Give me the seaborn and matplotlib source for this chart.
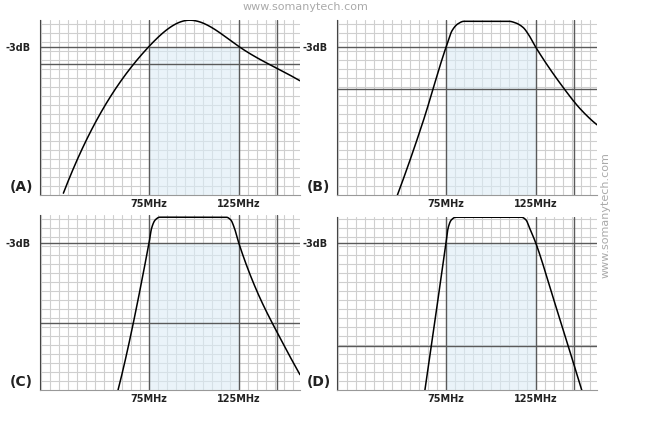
import matplotlib
matplotlib.use("Agg")
import matplotlib.pyplot as plt
import seaborn as sns
import numpy as np
from scipy.interpolate import PchipInterpolator, CubicSpline

sns.set_style("white")

panel_labels = ["(A)", "(B)", "(C)", "(D)"]
freq_A = [27.4, 47.8, 75, 95.9, 125, 143, 158.9]
lvl_A = [0.2, 9.0, 16.5, 19.4, 16.5, 14.4, 12.7]
freq_B = [48, 62, 75, 78.5, 81.5, 85, 110, 114, 118, 121, 125, 140, 150, 159]
lvl_B = [0, 8, 16.4, 18.3, 19.0, 19.3, 19.3, 19.1, 18.6, 17.8, 16.4, 12, 9.5, 7.8]
freq_C = [57.8, 75, 76.5, 78.5, 81, 118, 120.5, 122.5, 125, 135, 150, 159]
lvl_C = [0, 16.3, 18.0, 18.9, 19.2, 19.2, 18.9, 18.0, 16.3, 11, 5, 1.7]
freq_D = [63.3, 75, 76.2, 78, 80.5, 117, 119.5, 121.5, 125, 135, 150.5]
lvl_D = [0, 16.3, 18.0, 18.9, 19.2, 19.2, 18.9, 18.0, 16.3, 10, 0]
second_major = [14.5, 11.8, 7.5, 4.9]
minus3 = [16.4, 16.4, 16.3, 16.3]
tick_labels = ["75MHz", "125MHz"]
tick_pos = [75, 125]

fig = plt.figure(figsize=(6.5, 4.33), dpi=100)
W, H = 650, 433
boxes = [(40, 20, 300, 195), (337, 20, 597, 195), (40, 215, 300, 390), (337, 217, 597, 390)]
data = [(freq_A, lvl_A), (freq_B, lvl_B), (freq_C, lvl_C), (freq_D, lvl_D)]

for i, (x0, y0, x1, y1) in enumerate(boxes):
    ax = fig.add_axes([x0 / W, 1 - y1 / H, (x1 - x0) / W, (y1 - y0) / H])
    ytop = (y1 - y0) / 9.0
    ax.set_xlim(14.4, 159)
    ax.set_ylim(0, ytop)
    for xv in np.arange(15, 159, 5):
        ax.axvline(xv, color="#cfcfcf", lw=0.8, zorder=0)
    for yv in np.arange(1, ytop, 1):
        ax.axhline(yv, color="#cfcfcf", lw=0.8, zorder=0)
    ax.axvspan(75, 125, ymin=0, ymax=minus3[i] / ytop, color="#dcecf6", alpha=0.6, zorder=0.5, lw=0)
    for xv in [75, 125, 146]:
        ax.axvline(xv, color="#5a5a5a", lw=1.0, zorder=1)
    for yv in [minus3[i], second_major[i]]:
        ax.axhline(yv, color="#5a5a5a", lw=1.0, zorder=1)
    f, l = data[i]
    ff = np.linspace(f[0], f[-1], 400)
    if i == 0:
        ll = CubicSpline(f, l)(ff)
    else:
        ll = PchipInterpolator(f, l)(ff)
    sns.lineplot(x=ff, y=ll, ax=ax, color="black", lw=1.1, zorder=3, sort=False)
    ax.set_xticks(tick_pos)
    ax.set_xticklabels(tick_labels, fontsize=7, fontweight="bold", color="#222")
    ax.tick_params(axis="x", length=0, pad=3)
    ax.set_yticks([minus3[i]])
    ax.set_yticklabels(["-3dB"], fontsize=7, fontweight="bold", color="#222")
    ax.tick_params(axis="y", length=0, pad=7)
    for s in ["top", "right"]:
        ax.spines[s].set_visible(False)
    ax.spines["left"].set_color("#444")
    ax.spines["bottom"].set_color("#999")
    ax.set_xlabel("")
    ax.set_ylabel("")
    fig.text((x0 - 30) / W, 1 - (y1 - 8) / H, panel_labels[i], fontsize=10, fontweight="bold", va="center", ha="left", color="#222")

fig.text(305 / W, 1 - 7 / H, "www.somanytech.com", fontsize=8, color="#aaaaaa", ha="center", va="center")
fig.text(606 / W, 1 - 215 / H, "www.somanytech.com", fontsize=8, color="#aaaaaa", ha="center", va="center", rotation=90)
fig.savefig("out.png", dpi=100)
